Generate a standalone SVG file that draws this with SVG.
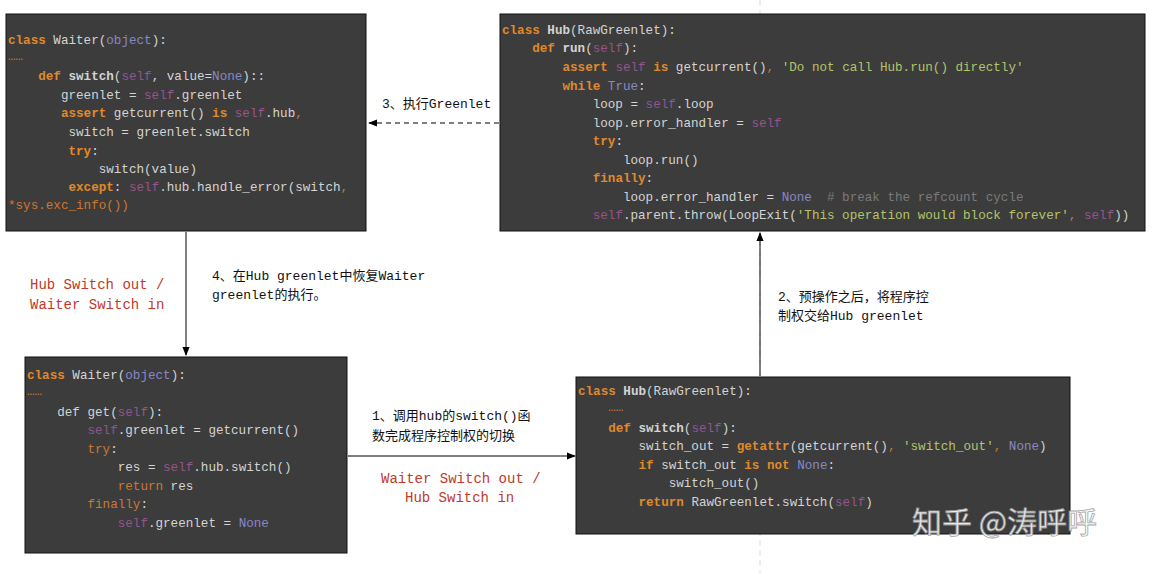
<svg xmlns="http://www.w3.org/2000/svg" width="1161" height="573" viewBox="0 0 1161 573">
<defs>
<marker id="ah" viewBox="0 0 10 10" refX="9" refY="5" markerWidth="9" markerHeight="9" orient="auto" markerUnits="userSpaceOnUse"><path d="M0,1 L10,5 L0,9 z" fill="#000"/></marker>
</defs>
<style>
.box{fill:#3c3c3c;stroke:#111;stroke-width:1}
.c{font-family:"Liberation Mono","Noto Sans CJK SC",monospace;font-size:12.6px;fill:#d4d4d4;white-space:pre}
.k{fill:#e08a2a;font-weight:bold}
.s{fill:#94558d}
.n{fill:#8888c6}
.g{fill:#b5c46a}
.cm{fill:#7a7a7a}
.o{fill:#cc7832}
.lb{font-family:"Liberation Mono","Noto Sans CJK SC",monospace;font-size:13px;fill:#111}
.rd{font-family:"Liberation Mono",monospace;font-size:14px;fill:#c0392b}
.ln{stroke:#000;stroke-width:1;fill:none}
</style>
<rect width="1161" height="573" fill="#fff"/>
<line x1="760" y1="0" x2="760" y2="573" stroke="#ddd" stroke-dasharray="6,4"/>
<g id="waiter-switch">
<rect class="box" x="6" y="14" width="360" height="217"/>
<text class="c" x="8" y="44"><tspan class="k">class</tspan> Waiter(<tspan class="n">object</tspan>):</text>
<text class="c o" x="8" y="60">……</text>
<text class="c" x="8" y="80">    <tspan class="k">def</tspan> <tspan font-weight="bold">switch</tspan>(<tspan class="s">self</tspan>, value=<tspan class="n">None</tspan>)::</text>
<text class="c" x="8" y="99">       greenlet = <tspan class="s">self</tspan>.greenlet</text>
<text class="c" x="8" y="117">       <tspan class="k">assert</tspan> getcurrent() <tspan class="k">is</tspan> <tspan class="s">self</tspan>.hub<tspan class="o">,</tspan></text>
<text class="c" x="8" y="136">        switch = greenlet.switch</text>
<text class="c" x="8" y="155">        <tspan class="k">try</tspan>:</text>
<text class="c" x="8" y="173">            switch(value)</text>
<text class="c" x="8" y="191">        <tspan class="k">except</tspan>: <tspan class="s">self</tspan>.hub.handle_error(switch<tspan class="o">,</tspan></text>
<text class="c o" x="8" y="209">*sys.exc_info())</text>
</g>
<g id="hub-run">
<rect class="box" x="500" y="14" width="645" height="217"/>
<text class="c" x="502" y="34"><tspan class="k">class</tspan> <tspan font-weight="bold">Hub</tspan>(RawGreenlet):</text>
<text class="c" x="502" y="52">    <tspan class="k">def</tspan> <tspan font-weight="bold">run</tspan>(<tspan class="s">self</tspan>):</text>
<text class="c" x="502" y="71">        <tspan class="k">assert</tspan> <tspan class="s">self</tspan> <tspan class="k">is</tspan> getcurrent()<tspan class="o">,</tspan> <tspan class="g">'Do not call Hub.run() directly'</tspan></text>
<text class="c" x="502" y="90">        <tspan class="k">while</tspan> <tspan class="n">True</tspan>:</text>
<text class="c" x="502" y="108">            loop = <tspan class="s">self</tspan>.loop</text>
<text class="c" x="502" y="127">            loop.error_handler = <tspan class="s">self</tspan></text>
<text class="c" x="502" y="145">            <tspan class="k">try</tspan>:</text>
<text class="c" x="502" y="164">                loop.run()</text>
<text class="c" x="502" y="182">            <tspan class="k">finally</tspan>:</text>
<text class="c" x="502" y="201">                loop.error_handler = <tspan class="n">None</tspan>  <tspan class="cm"># break the refcount cycle</tspan></text>
<text class="c" x="502" y="219">            <tspan class="s">self</tspan>.parent.throw(LoopExit(<tspan class="g">'This operation would block forever'</tspan><tspan class="o">,</tspan> <tspan class="s">self</tspan>))</text>
</g>
<g id="waiter-get">
<rect class="box" x="25" y="357" width="322" height="196"/>
<text class="c" x="27" y="379"><tspan class="k">class</tspan> Waiter(<tspan class="n">object</tspan>):</text>
<text class="c o" x="27" y="395">……</text>
<text class="c" x="27" y="416">    def get(<tspan class="s">self</tspan>):</text>
<text class="c" x="27" y="434">        <tspan class="s">self</tspan>.greenlet = getcurrent()</text>
<text class="c" x="27" y="453">        <tspan class="o">try</tspan>:</text>
<text class="c" x="27" y="471">            res = <tspan class="s">self</tspan>.hub.switch()</text>
<text class="c" x="27" y="490">            <tspan class="o">return</tspan> res</text>
<text class="c" x="27" y="508">        <tspan class="o">finally</tspan>:</text>
<text class="c" x="27" y="527">            <tspan class="s">self</tspan>.greenlet = <tspan class="n">None</tspan></text>
</g>
<g id="hub-switch">
<rect class="box" x="576" y="377" width="494" height="157"/>
<text class="c" x="578" y="395"><tspan class="k">class</tspan> <tspan font-weight="bold">Hub</tspan>(RawGreenlet):</text>
<text class="c o" x="578" y="411">    ……</text>
<text class="c" x="578" y="432">    <tspan class="k">def</tspan> <tspan font-weight="bold">switch</tspan>(<tspan class="s">self</tspan>):</text>
<text class="c" x="578" y="450">        switch_out = <tspan class="k">getattr</tspan>(getcurrent()<tspan class="o">,</tspan> <tspan class="g">'switch_out'</tspan><tspan class="o">,</tspan> <tspan class="n">None</tspan>)</text>
<text class="c" x="578" y="469">        <tspan class="k">if</tspan> switch_out <tspan class="k">is not</tspan> <tspan class="n">None</tspan>:</text>
<text class="c" x="578" y="487">            switch_out()</text>
<text class="c" x="578" y="506">        <tspan class="k">return</tspan> RawGreenlet.switch(<tspan class="s">self</tspan>)</text>
</g>
<g id="connectors">
<line class="ln" x1="499" y1="123" x2="369" y2="123" stroke-dasharray="5,4" marker-end="url(#ah)"/>
<line class="ln" x1="186" y1="232" x2="186" y2="355" marker-end="url(#ah)"/>
<line class="ln" x1="348" y1="456" x2="575" y2="456" marker-end="url(#ah)"/>
<line class="ln" x1="760" y1="376" x2="760" y2="233" marker-end="url(#ah)"/>
</g>
<g id="labels">
<text class="lb" x="382" y="108" font-size="11">3、执行Greenlet</text>
<text class="lb" x="212" y="280">4、在Hub greenlet中恢复Waiter</text>
<text class="lb" x="212" y="299">greenlet的执行。</text>
<text class="rd" x="30" y="289">Hub Switch out /</text>
<text class="rd" x="30" y="309">Waiter Switch in</text>
<text class="lb" x="372" y="420">1、调用hub的switch()函</text>
<text class="lb" x="372" y="440">数完成程序控制权的切换</text>
<text class="rd" x="381" y="483">Waiter Switch out /</text>
<text class="rd" x="405" y="502">Hub Switch in</text>
<text class="lb" x="778" y="301">2、预操作之后，将程序控</text>
<text class="lb" x="778" y="320">制权交给Hub greenlet</text>
<text x="912" y="533" font-family="Noto Sans CJK SC,sans-serif" font-size="30" fill="#fff" stroke="#999" stroke-width="0.8" opacity="0.9">知乎 @涛呼呼</text>
</g>
</svg>
